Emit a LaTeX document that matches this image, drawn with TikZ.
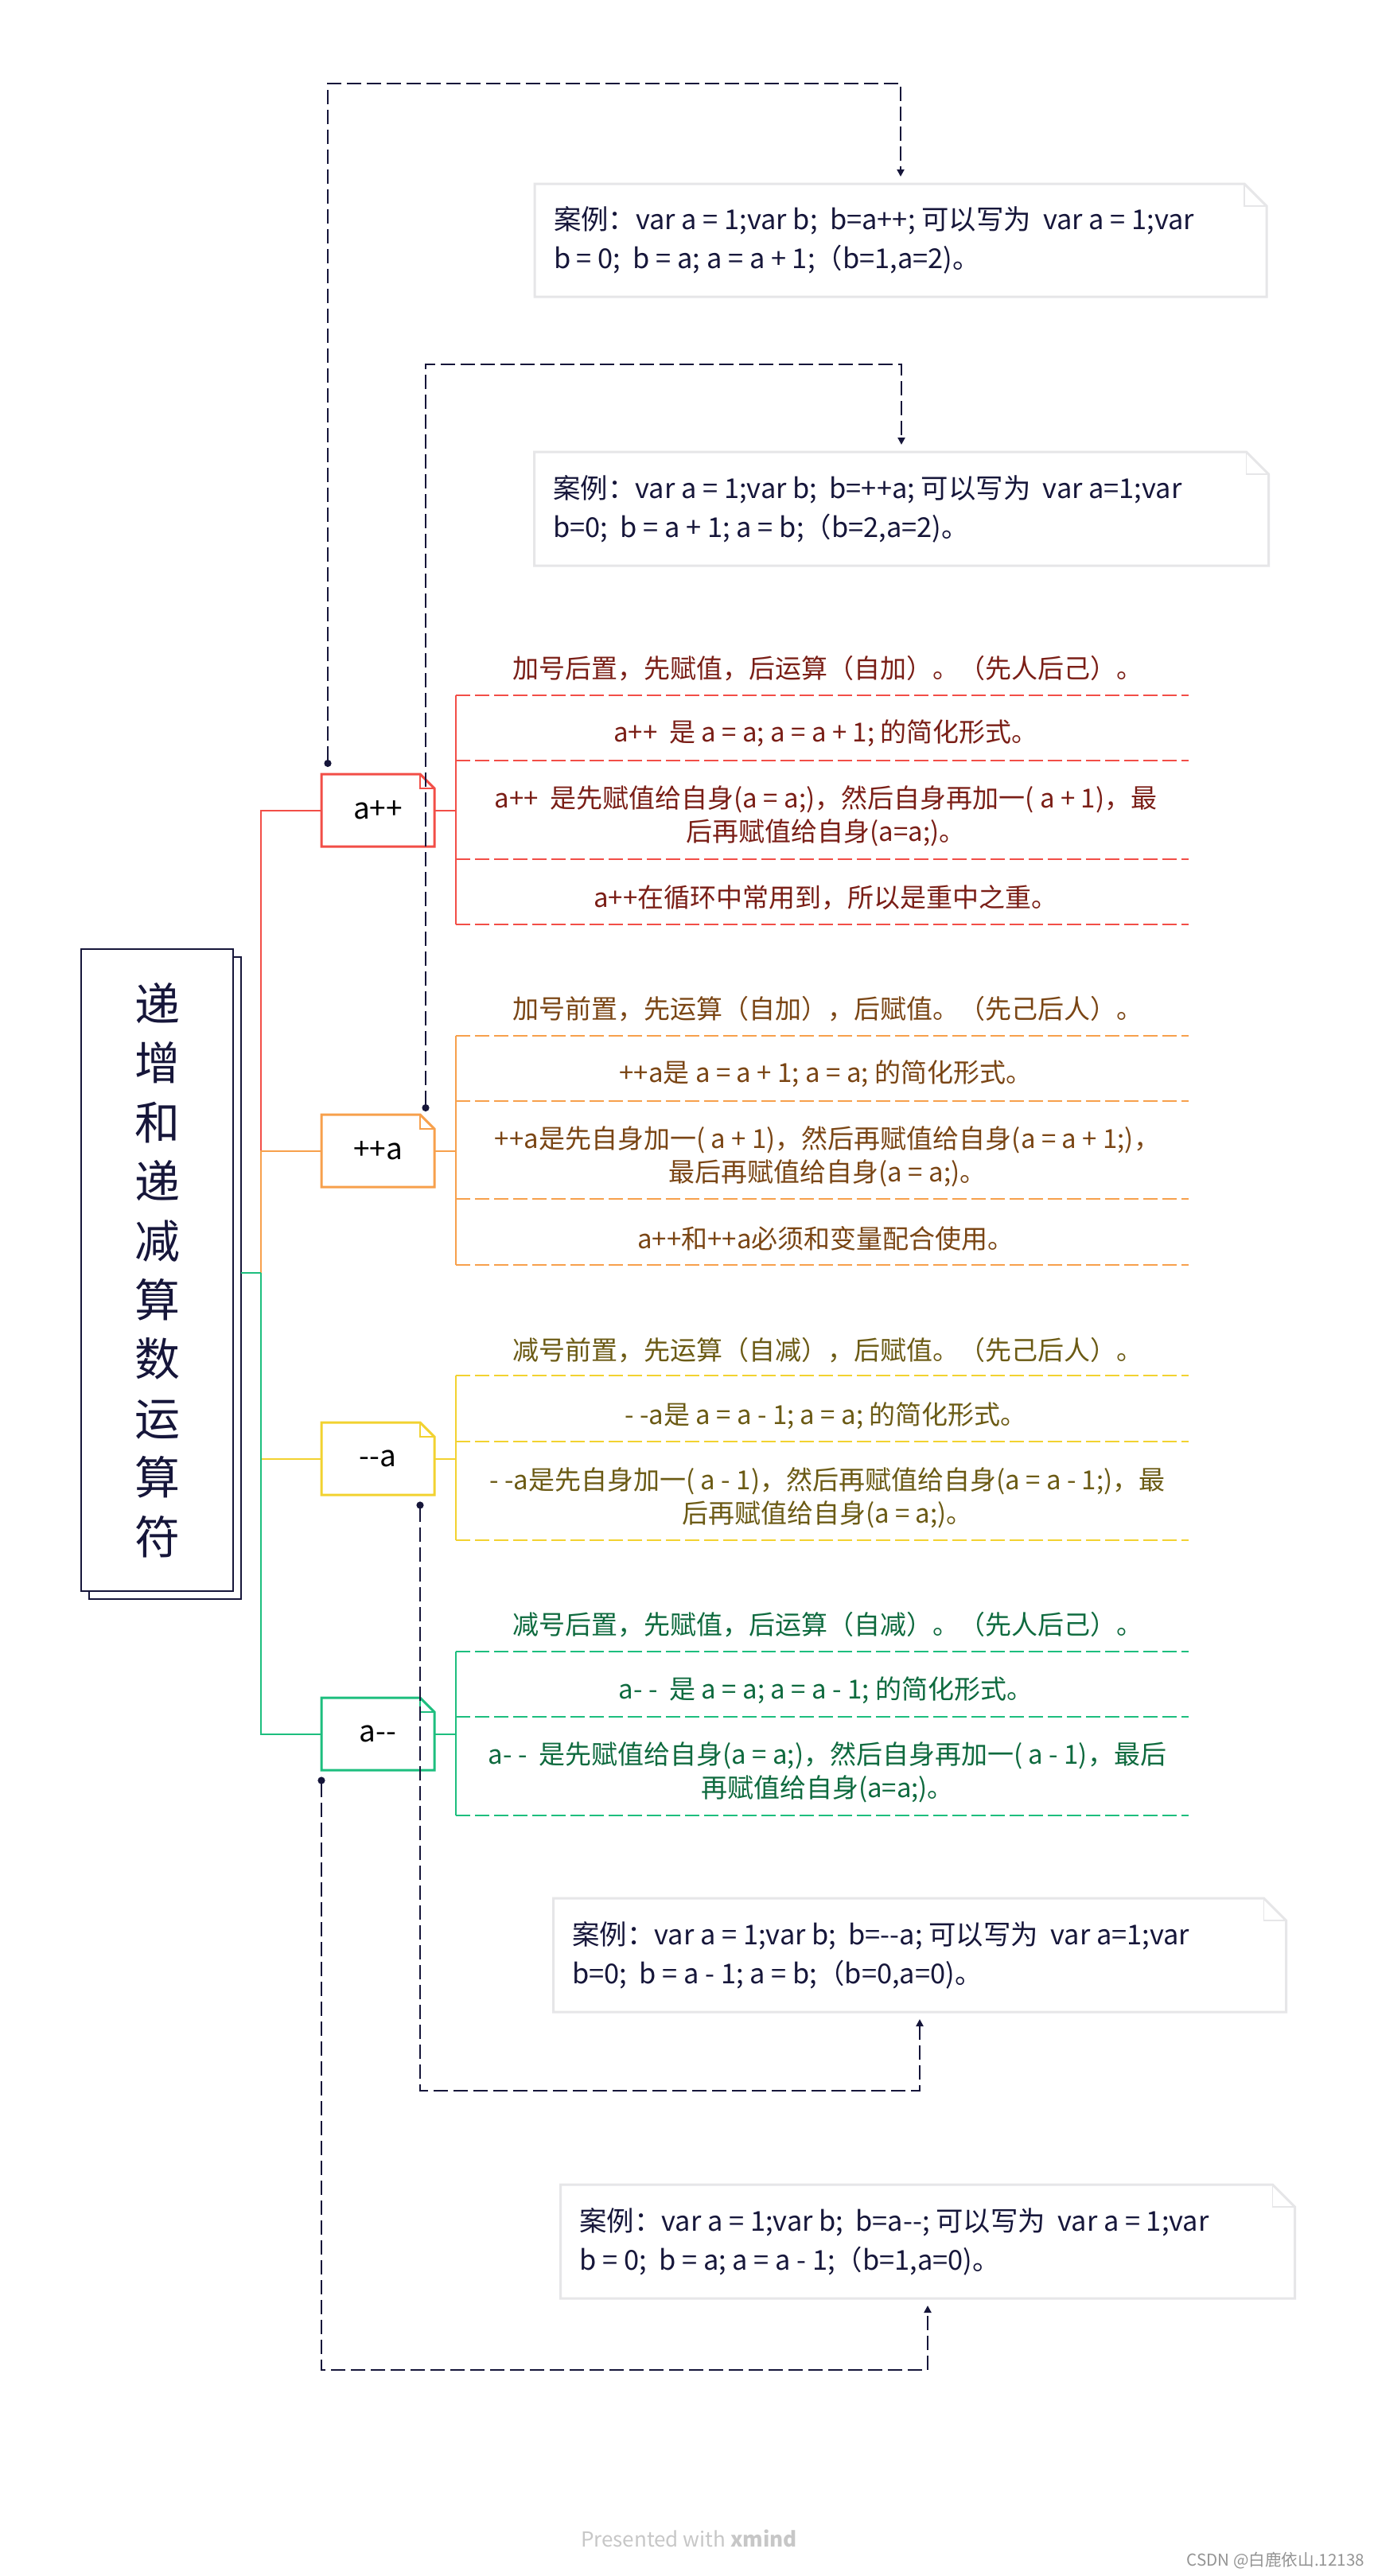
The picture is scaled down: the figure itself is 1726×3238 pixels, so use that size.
\documentclass[tikz,border=0pt]{standalone}
\usepackage{fontspec}
\setmainfont{Noto Sans CJK SC}
\usetikzlibrary{arrows.meta,calc}
\definecolor{cred}{HTML}{F24E47}
\definecolor{tred}{HTML}{7A1E16}
\definecolor{corg}{HTML}{F7A04C}
\definecolor{torg}{HTML}{7A4514}
\definecolor{cyel}{HTML}{F2D230}
\definecolor{tyel}{HTML}{6B5A14}
\definecolor{cgrn}{HTML}{1DBE7E}
\definecolor{tgrn}{HTML}{0E6A3E}
\definecolor{navy}{HTML}{16163A}
\definecolor{notegray}{HTML}{E6E6E8}
\newcommand\foldbox[4]{% name, color, fold, width
  \draw[#2, line width=#4, line join=miter] (#1.south west) -- (#1.north west) -- ([xshift=-#3]#1.north east) -- ([yshift=-#3]#1.north east) -- (#1.south east) -- cycle;
  \draw[#2, line width=0.8pt] ([xshift=-#3]#1.north east) -- ([xshift=-#3,yshift=-#3]#1.north east) -- ([yshift=-#3]#1.north east);}
\newcommand\seplines[2]{\foreach \yy in {#2} {\draw[sep,#1] (573,\yy) -- (1494,\yy);}}
\begin{document}
\begin{tikzpicture}[x=0.5pt,y=-0.5pt,
  every node/.style={inner sep=0pt, outer sep=0pt},
  rootbox/.style={draw=navy, line width=1pt, fill=white, minimum width=95.5pt, minimum height=403.5pt},
  topic/.style={minimum width=71pt, minimum height=45.5pt, font=\fontsize{18.5}{20}\selectfont, text=black},
  notebox/.style={minimum height=71.5pt},
  notetext/.style={anchor=west, align=left, text=navy, font=\fontsize{17.2}{24.5}\selectfont},
  rowtext/.style={align=center, font=\fontsize{16.5}{21}\selectfont},
  conn/.style={draw=navy, line width=1.2pt, dash pattern=on 9pt off 3.5pt, {Circle[length=4.5pt]}-{Triangle[length=4.5pt,width=4.5pt]}, shorten >=4.5pt},
  branch/.style={line width=1pt},
  sep/.style={line width=1pt, dash pattern=on 9pt off 3pt},
]
\fill[white] (0,0) rectangle (1726,3238);
\useasboundingbox (0,0) rectangle (1726,3238);

% root
\node[rootbox] (rootsh) at (207.5,1606.5) {};
\node[rootbox, align=center, text=navy, font=\fontsize{28.5}{37.2}\selectfont] (root) at (197.5,1596.5) {递\\增\\和\\递\\减\\算\\数\\运\\算\\符};

% topics
\node[topic] (app) at (475,1018.5) {a++};
\node[topic] (ppa) at (475,1446.5) {++a};
\node[topic] (mma) at (475,1833.5) {-{}-a};
\node[topic] (amm) at (475,2179.5) {a-{}-};

% main branches
\coordinate (J) at (328,1600);
\draw[branch, cred] (J) |- (app.west);
\draw[branch, corg] (J) |- (ppa.west);
\draw[branch, cyel] (J) |- (mma.west);
\draw[branch, cgrn] (J) |- (amm.west);
\draw[branch, cgrn] (rootsh.east |- J) -- (J);

\foldbox{app}{cred}{9pt}{1.5pt}
\foldbox{ppa}{corg}{9pt}{1.5pt}
\foldbox{mma}{cyel}{9pt}{1.5pt}
\foldbox{amm}{cgrn}{9pt}{1.5pt}

% a++ column
\coordinate (a0) at (573,874);
\coordinate (a3) at (573,1162);
\draw[branch, cred] (app.east) -- (app.east -| a0);
\draw[branch, cred] (a0) -- (a3);
\seplines{cred}{874,956,1080,1162}
\node[rowtext, text=tred] (a1) at (1040,840) {加号后置，先赋值，后运算（自加）。（先人后己）。};
\node[rowtext, text=tred] (a2) at (1038,922) {a++~~是 a = a; a = a + 1; 的简化形式。};
\node[rowtext, text=tred] (a3t) at (1038,1026) {a++~~是先赋值给自身(a = a;)，然后自身再加一( a + 1)，最\\后再赋值给自身(a=a;)。};
\node[rowtext, text=tred] (a4) at (1038,1128) {a++在循环中常用到，所以是重中之重。};

% ++a column
\coordinate (b0) at (573,1302);
\coordinate (b3) at (573,1590);
\draw[branch, corg] (ppa.east) -- (ppa.east -| b0);
\draw[branch, corg] (b0) -- (b3);
\seplines{corg}{1302,1384,1507,1590}
\node[rowtext, text=torg] (b1) at (1040,1268) {加号前置，先运算（自加），后赋值。（先己后人）。};
\node[rowtext, text=torg] (b2) at (1038,1350) {++a是 a = a + 1; a = a; 的简化形式。};
\node[rowtext, text=torg] (b3t) at (1040,1454) {++a是先自身加一( a + 1)，然后再赋值给自身(a = a + 1;)，\\最后再赋值给自身(a = a;)。};
\node[rowtext, text=torg] (b4) at (1038,1557) {a++和++a必须和变量配合使用。};

% --a column
\coordinate (c0) at (573,1729);
\coordinate (c2) at (573,1936);
\draw[branch, cyel] (mma.east) -- (mma.east -| c0);
\draw[branch, cyel] (c0) -- (c2);
\seplines{cyel}{1729,1812,1936}
\node[rowtext, text=tyel] (c1) at (1040,1697) {减号前置，先运算（自减），后赋值。（先己后人）。};
\node[rowtext, text=tyel] (c2t) at (1038,1780) {- -a是 a = a - 1; a = a; 的简化形式。};
\node[rowtext, text=tyel] (c3t) at (1040,1882.5) {- -a是先自身加一( a - 1)，然后再赋值给自身(a = a - 1;)，最\\后再赋值给自身(a = a;)。};

% a-- column
\coordinate (d0) at (573,2076);
\coordinate (d2) at (573,2282);
\draw[branch, cgrn] (amm.east) -- (amm.east -| d0);
\draw[branch, cgrn] (d0) -- (d2);
\seplines{cgrn}{2076,2158,2282}
\node[rowtext, text=tgrn] (d1) at (1040,2042) {减号后置，先赋值，后运算（自减）。（先人后己）。};
\node[rowtext, text=tgrn] (d2t) at (1038,2125) {a- -~~是 a = a; a = a - 1; 的简化形式。};
\node[rowtext, text=tgrn] (d3t) at (1040,2227.5) {a- -~~是先赋值给自身(a = a;)，然后自身再加一( a - 1)，最后\\再赋值给自身(a=a;)。};

% notes
\node[notebox, minimum width=460pt, minimum height=71pt] (note1) at (1132,302) {};
\node[notebox, minimum width=461.5pt] (note2) at (1133,639.5) {};
\node[notebox, minimum width=460.5pt] (note3) at (1156,2457.5) {};
\node[notebox, minimum width=461.5pt] (note4) at (1166,2817.5) {};
\foldbox{note1}{notegray}{14pt}{1.5pt}
\foldbox{note2}{notegray}{14pt}{1.5pt}
\foldbox{note3}{notegray}{14pt}{1.5pt}
\foldbox{note4}{notegray}{14pt}{1.5pt}
\node[notetext] (n1t) at ([xshift=12pt]note1.west) {案例：var a = 1;var b;~ b=a++; 可以写为~ var a = 1;var\\b = 0;~ b = a; a = a + 1;（b=1,a=2)。};
\node[notetext] (n2t) at ([xshift=12pt]note2.west) {案例：var a = 1;var b;~ b=++a; 可以写为~ var a=1;var\\b=0;~ b = a + 1; a = b;（b=2,a=2)。};
\node[notetext] (n3t) at ([xshift=12pt]note3.west) {案例：var a = 1;var b;~ b=-{}-a; 可以写为~ var a=1;var\\b=0;~ b = a - 1; a = b;（b=0,a=0)。};
\node[notetext] (n4t) at ([xshift=12pt]note4.west) {案例：var a = 1;var b;~ b=a-{}-; 可以写为~ var a = 1;var\\b = 0;~ b = a; a = a - 1;（b=1,a=0)。};

% dashed relation connectors
\coordinate (y1) at (0,105);
\coordinate (y2) at (0,458);
\coordinate (y3) at (0,2628);
\coordinate (y4) at (0,2979);
\coordinate (c1s) at ([xshift=4pt,yshift=4.5pt]app.north west);
\coordinate (c2s) at ([xshift=-5.5pt,yshift=2pt]ppa.north east);
\coordinate (c3s) at ([xshift=-9pt,yshift=-4.25pt]mma.south east);
\coordinate (c4s) at ([yshift=-4.25pt]amm.south west);
\coordinate (k1) at (note1.north |- y1);
\coordinate (k2) at (note2.north |- y2);
\coordinate (k3) at (note3.south |- y3);
\coordinate (k4) at (note4.south |- y4);
\draw[conn] (c1s) |- (k1) -- (note1.north);
\draw[conn] (c2s) |- (k2) -- (note2.north);
\draw[conn] (c3s) |- (k3) -- (note3.south);
\draw[conn] (c4s) |- (k4) -- (note4.south);

% footer
\node[text=black!22, font=\fontsize{13}{15}\selectfont] (pres) at (866,3191) {Presented with \textbf{xmind}};
\node[anchor=east, text=black!42, font=\fontsize{10.3}{12}\selectfont] (csdn) at (1715,3219) {CSDN @白鹿依山.12138};
\end{tikzpicture}
\end{document}
